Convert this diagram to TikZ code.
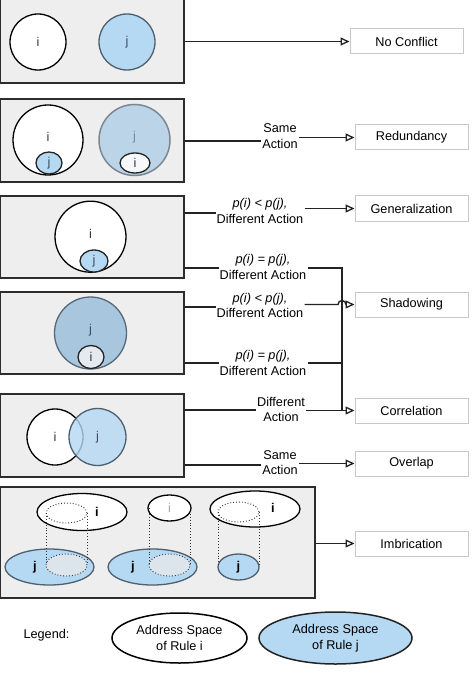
\documentclass[tikz,border=0pt]{standalone}
\usepackage{fontspec}
\setmainfont{Liberation Sans}
\usetikzlibrary{arrows.meta,shapes.geometric,fit}
\definecolor{bluef}{RGB}{181,216,243}
\definecolor{jborder}{RGB}{78,95,110}
\definecolor{panelf}{RGB}{238,238,238}
\definecolor{panelb}{RGB}{45,45,45}
\definecolor{rboxb}{RGB}{200,200,200}
\definecolor{linec}{RGB}{35,35,35}
\definecolor{textc}{RGB}{50,50,50}
\definecolor{textj}{RGB}{60,75,90}
\definecolor{mutedf}{RGB}{188,212,232}
\definecolor{mutedb}{RGB}{125,135,145}
\definecolor{darkf}{RGB}{168,198,221}
\definecolor{darkb}{RGB}{85,105,122}
\definecolor{innerf}{RGB}{221,229,236}
\begin{document}
\begin{tikzpicture}[x=1pt,y=-1pt,
  font=\fontsize{12.7}{15.5}\selectfont,
  panel/.style={draw=panelb, fill=panelf, line width=1.3pt, inner sep=0pt},
  rbox/.style={draw=rboxb, fill=white, line width=1pt, minimum width=113pt, minimum height=25pt, inner sep=0pt},
  lbl/.style={fill=white, align=center, inner sep=1pt},
  conn/.style={draw=linec, line width=1.4pt},
  arr/.style={conn, -{Triangle[open,length=9pt,width=8pt,line width=1.3pt]}},
  ci/.style={circle, draw=black, fill=white, line width=1.3pt, inner sep=0pt, text=textc},
  cj/.style={circle, draw=jborder, fill=bluef, line width=1.3pt, inner sep=0pt, text=textj},
  ei/.style={ellipse, draw=black, fill=white, line width=1.3pt, inner sep=0pt, text=textc},
  ej/.style={ellipse, draw=jborder, fill=bluef, line width=1.3pt, inner sep=0pt, text=textj},
  dotell/.style={ellipse, draw=textc, dotted, line width=0.9pt, inner sep=0pt},
  dots/.style={draw=textc, dotted, line width=0.9pt}
]
\useasboundingbox (0,0) rectangle (474,676);

% panels
\node[panel, fit={(0.7,-1) (184,83)}] (b1) {};
\node[panel, fit={(0.7,99) (184,182)}] (b2) {};
\node[panel, fit={(0.7,196) (184,278)}] (b3) {};
\node[panel, fit={(0.7,292) (184,374)}] (b4) {};
\node[panel, fit={(0.7,394) (184,477)}] (b5) {};
\node[panel, fit={(0.7,487) (315,598)}] (b6) {};

% panel 1
\node[ci, minimum size=56pt] (p1i) at (38,42) {i};
\node[cj, minimum size=56pt] (p1j) at (127,42) {j};

% panel 2
\node[ci, minimum size=70pt] (p2i) at (48,140) {};
\node[text=textc] (p2il) at (48,137) {i};
\node[ej, draw=linec, minimum width=26pt, minimum height=22pt] (p2j) at (49,163) {j};
\node[circle, draw=mutedb, fill=mutedf, line width=1.5pt, minimum size=71pt, inner sep=0pt] (p2J) at (134.5,140) {};
\node[text=mutedb] (p2Jl) at (134.5,137) {j};
\node[ei, draw=linec, fill=white!85!mutedf, minimum width=30pt, minimum height=20pt] (p2I) at (135,163) {i};

% panel 3
\node[ci, minimum size=71pt] (p3i) at (90.5,236.7) {};
\node[text=textc] (p3il) at (90.5,234) {i};
\node[ej, draw=linec, minimum width=28pt, minimum height=22pt] (p3j) at (94,261) {j};

% panel 4
\node[circle, draw=darkb, fill=darkf, line width=1.3pt, minimum size=72pt, inner sep=0pt] (p4j) at (90.5,333) {};
\node[text=textj] (p4jl) at (90.5,330) {j};
\node[ei, draw=linec, fill=innerf!80!white, minimum width=26pt, minimum height=23pt] (p4i) at (91,357) {i};

% panel 5
\node[ci, minimum size=56pt] (p5i) at (55,437) {};
\node[cj, minimum size=57pt, fill opacity=0.8, text opacity=1] (p5j) at (97.5,437) {};
\node[text=textc] (p5il) at (55,437) {i};
\node[text=textj] (p5jl) at (97.5,437) {j};

% panel 6 (imbrication)
\node[ej, minimum width=89pt, minimum height=36pt] (g1j) at (49.5,567) {};
\node[ellipse, fill=innerf, minimum width=41pt, minimum height=22pt, inner sep=0pt] (g1jin) at (66.5,565) {};
\node[dotell, minimum width=41pt, minimum height=22pt] (g1jd) at (66.5,565) {};
\node[ei, minimum width=90pt, minimum height=37pt] (g1i) at (82,512) {};
\node[dotell, minimum width=41pt, minimum height=20pt] (g1id) at (66.5,513) {};
\draw[dots] (46,513) -- (46,565) (87,513) -- (87,565);
\node[font=\fontsize{12.7}{15}\selectfont\bfseries] (g1il) at (97,512) {i};
\node[font=\fontsize{12.7}{15}\selectfont\bfseries] (g1jl) at (35,567) {j};

\node[ej, minimum width=89pt, minimum height=36pt] (g2j) at (152.5,567) {};
\node[ellipse, fill=innerf, minimum width=41pt, minimum height=22pt, inner sep=0pt] (g2jin) at (169.5,565) {};
\node[dotell, minimum width=41pt, minimum height=22pt] (g2jd) at (169.5,565) {};
\node[ei, minimum width=43pt, minimum height=26pt, text=gray!70] (g2i) at (169.5,508) {i};
\draw[dots] (149,508) -- (149,565) (190,508) -- (190,565);
\node[font=\fontsize{12.7}{15}\selectfont\bfseries] (g2jl) at (133,567) {j};

\node[ej, minimum width=41pt, minimum height=26pt] (g3j) at (238.5,567) {};
\node[ei, minimum width=90pt, minimum height=36pt] (g3i) at (255,509) {};
\node[dotell, minimum width=41pt, minimum height=20pt] (g3id) at (238.5,512) {};
\draw[dots] (218,512) -- (218,567) (259,512) -- (259,567);
\node[font=\fontsize{12.7}{15}\selectfont\bfseries] (g3il) at (273,508) {i};
\node[font=\fontsize{12.7}{15}\selectfont\bfseries] (g3jl) at (238.5,567) {j};

% result boxes
\node[rbox] (nc) at (406.5,41.5) {No Conflict};
\node[rbox] (red) at (411.5,137.5) {Redundancy};
\node[rbox] (gen) at (411.5,208.5) {Generalization};
\node[rbox] (sha) at (411.5,304.5) {Shadowing};
\node[rbox] (cor) at (411.5,410.5) {Correlation};
\node[rbox] (ovl) at (411.5,463.5) {Overlap};
\node[rbox] (imb) at (411.5,543.5) {Imbrication};

% edge labels
\node[lbl] (l2) at (280,136) {Same\\Action};
\node[lbl] (l3) at (260,211) {\textit{p(i) < p(j),}\\Different Action};
\node[lbl] (l4) at (263,267) {\textit{p(i) = p(j),}\\Different Action};
\node[lbl] (l5) at (260,305.5) {\textit{p(i) < p(j),}\\Different Action};
\node[lbl] (l6) at (263,363) {\textit{p(i) = p(j),}\\Different Action};
\node[lbl] (l7) at (281,409.5) {Different\\Action};
\node[lbl] (l8) at (280,462.5) {Same\\Action};

\coordinate (vtop) at (342,268);
\coordinate (vbot) at (342,410.5);
\coordinate (hopL) at (338,304.5);

% connectors
\draw[arr] (b1.east |- nc.west) -- (nc.west);
\draw[conn] (b2.east |- 0,141) -- (l2.west |- 0,141);
\draw[arr] (l2.east |- red.west) -- (red.west);
\draw[conn] (b3.east |- 0,213) -- (l3.west |- 0,213);
\draw[arr] (l3.east |- gen.west) -- (gen.west);
\draw[conn] (b3.east |- 0,268) -- (l4.west |- 0,268);
\draw[conn] (l4.east |- vtop) -- (vtop) -- (vbot);
\draw[conn] (b4.east |- 0,307) -- (l5.west |- 0,307);
\draw[arr] (l5.east |- sha.west) -- (hopL) arc[start angle=180, end angle=0, radius=4pt] -- (sha.west);
\draw[conn] (b4.east |- 0,363) -- (l6.west |- 0,363);
\draw[conn] (l6.east |- 0,363) -- (vtop |- 0,363);
\draw[conn] (b5.east |- 0,410) -- (l7.west |- 0,410);
\draw[arr] (l7.east |- cor.west) -- (cor.west);
\draw[conn] (b5.east |- 0,465) -- (l8.west |- 0,465);
\draw[arr] (l8.east |- ovl.west) -- (ovl.west);
\draw[arr] (b6.east |- imb.west) -- (imb.west);

% legend
\node (leg) at (46.5,635) {Legend:};
\node[ellipse, draw=black, fill=white, line width=1.5pt, minimum width=135pt, minimum height=50pt, inner sep=0pt, align=center] (legi) at (179.5,638) {Address Space\\of Rule i};
\node[ellipse, draw=linec, fill=bluef, line width=1.5pt, minimum width=153pt, minimum height=52pt, inner sep=0pt, align=center] (legj) at (335.5,638) {Address Space\\of Rule j};
\end{tikzpicture}
\end{document}
